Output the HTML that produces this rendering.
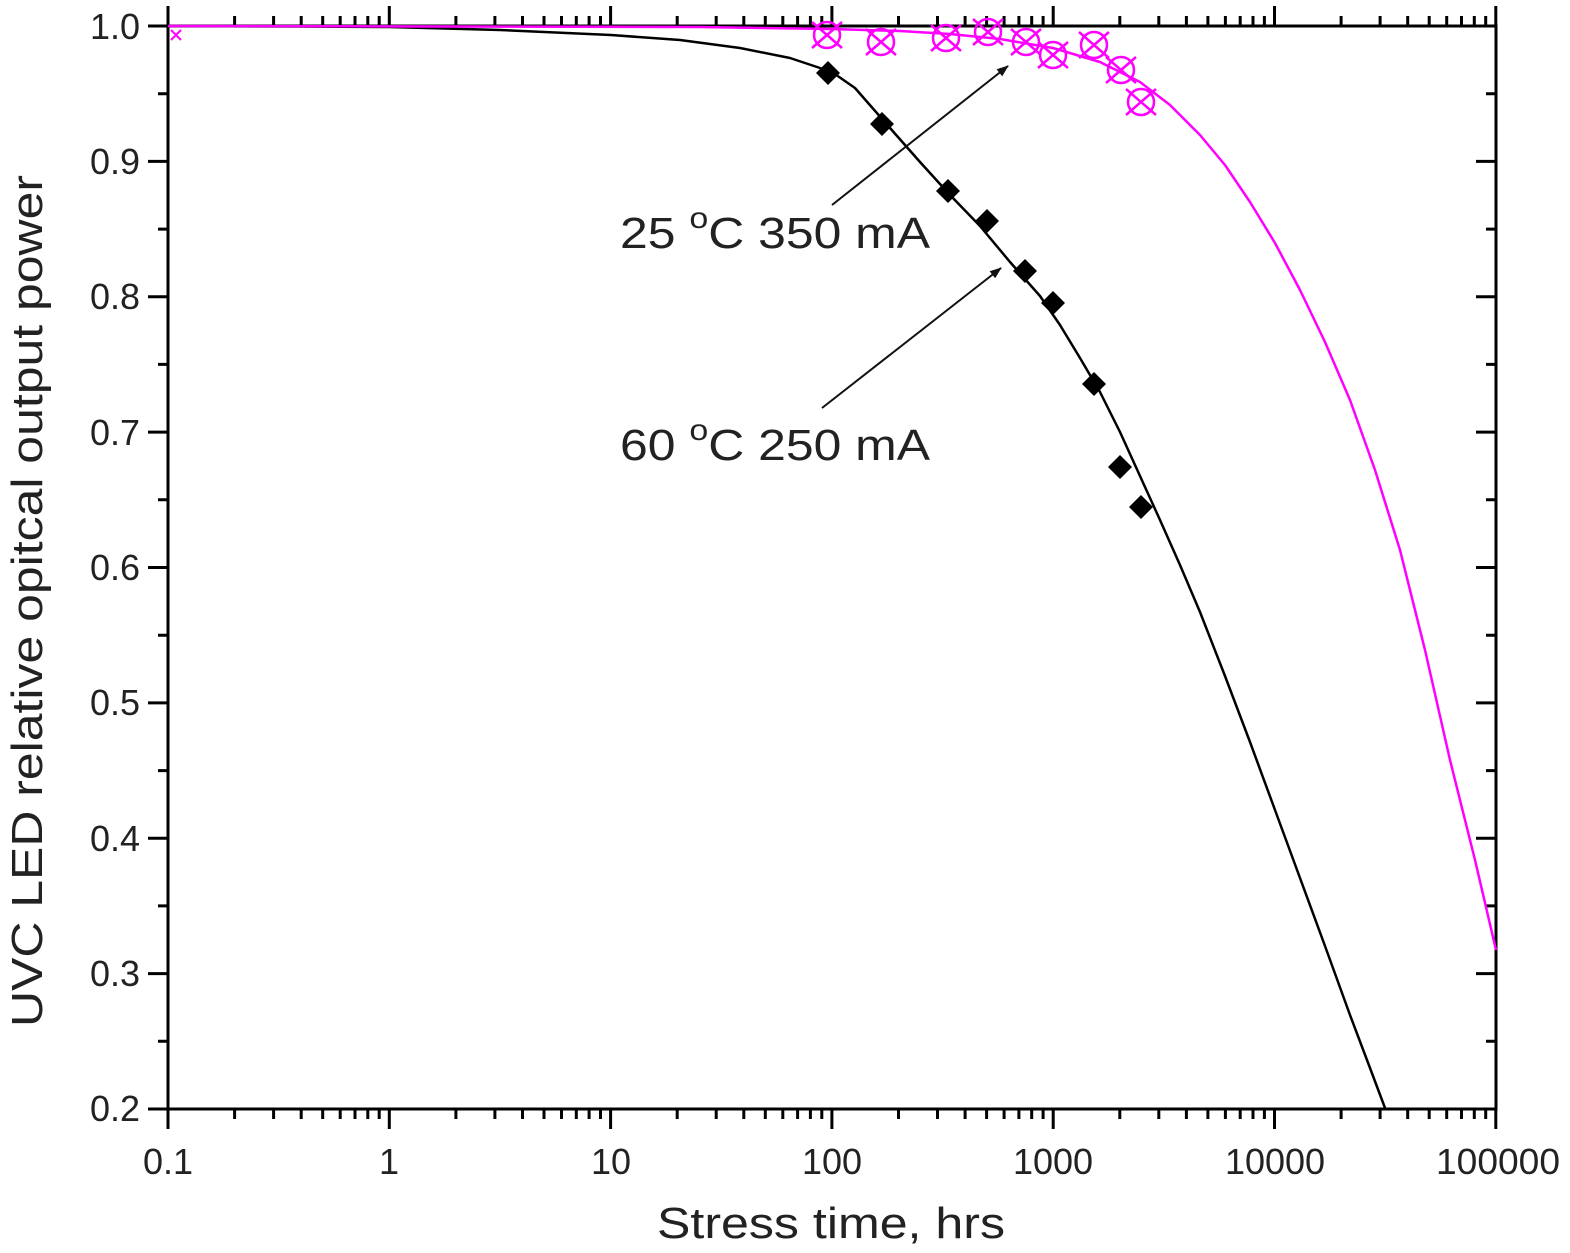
<!DOCTYPE html>
<html><head><style>body{margin:0;background:#fff}svg{display:block}text{font-family:"Liberation Sans",Arial,sans-serif;fill:#222}</style></head>
<body>
<svg width="1570" height="1253" viewBox="0 0 1570 1253">
<defs><marker id="ah" markerWidth="12" markerHeight="9" refX="11" refY="4.5" orient="auto" markerUnits="userSpaceOnUse" viewBox="0 0 12 9"><path d="M0,0 L12,4.5 L0,9 z" fill="#111"/></marker>
<g id="cx"><circle r="13" fill="none" stroke="#f0f" stroke-width="2.5"/><path d="M-15,-13 L15,13 M-15,13 L15,-13" stroke="#f0f" stroke-width="2.5"/></g>
<path id="dm" d="M0,-12 L12,0 L0,12 L-12,0 z" fill="#000"/>
<path id="xmaj" d="M168 1109v20M389.3 1109v20M610.6 1109v20M831.9 1109v20M1053.2 1109v20M1274.5 1109v20M1495.8 1109v20"/>
<path id="xmin" d="M234.6 1109v10M273.6 1109v10M301.2 1109v10M322.7 1109v10M340.2 1109v10M355 1109v10M367.8 1109v10M379.2 1109v10M455.9 1109v10M494.9 1109v10M522.5 1109v10M544 1109v10M561.5 1109v10M576.3 1109v10M589.1 1109v10M600.5 1109v10M677.2 1109v10M716.2 1109v10M743.8 1109v10M765.3 1109v10M782.8 1109v10M797.6 1109v10M810.4 1109v10M821.8 1109v10M898.5 1109v10M937.5 1109v10M965.1 1109v10M986.6 1109v10M1004.1 1109v10M1018.9 1109v10M1031.7 1109v10M1043.1 1109v10M1119.8 1109v10M1158.8 1109v10M1186.4 1109v10M1207.9 1109v10M1225.4 1109v10M1240.2 1109v10M1253 1109v10M1264.4 1109v10M1341.1 1109v10M1380.1 1109v10M1407.7 1109v10M1429.2 1109v10M1446.7 1109v10M1461.5 1109v10M1474.3 1109v10M1485.7 1109v10"/>
<path id="ytk" d="M168 26h-20M168 93.7h-10M168 161.4h-20M168 229.1h-10M168 296.8h-20M168 364.4h-10M168 432.1h-20M168 499.8h-10M168 567.5h-20M168 635.2h-10M168 702.9h-20M168 770.6h-10M168 838.3h-20M168 905.9h-10M168 973.6h-20M168 1041.3h-10M168 1109h-20"/>
</defs>
<rect x="168" y="26" width="1328" height="1083" fill="none" stroke="#000" stroke-width="3"/>
<g stroke="#000" stroke-width="3" fill="none">
<use href="#xmaj"/><use href="#xmin"/>
<use href="#xmaj" transform="matrix(1,0,0,-1,0,1135)"/><use href="#xmin" transform="matrix(1,0,0,-1,0,1135)"/>
<use href="#ytk"/><use href="#ytk" transform="translate(1328,0)"/>
</g>
<g font-size="36" text-anchor="end">
<text x="140" y="39">1.0</text><text x="140" y="174">0.9</text><text x="140" y="309">0.8</text><text x="140" y="445">0.7</text><text x="140" y="580">0.6</text><text x="140" y="715">0.5</text><text x="140" y="851">0.4</text><text x="140" y="986">0.3</text><text x="140" y="1121">0.2</text>
</g>
<g font-size="36" text-anchor="middle">
<text x="168" y="1174">0.1</text><text x="389" y="1174">1</text><text x="611" y="1174">10</text><text x="832" y="1174">100</text><text x="1053" y="1174">1000</text><text x="1275" y="1174">10000</text><text x="1498" y="1174" textLength="124" lengthAdjust="spacingAndGlyphs">100000</text>
</g>
<text x="657" y="1238" font-size="44" textLength="348" lengthAdjust="spacingAndGlyphs">Stress time, hrs</text>
<text transform="translate(42,1027) rotate(-90)" font-size="44" textLength="852" lengthAdjust="spacingAndGlyphs">UVC LED relative opitcal output power</text>
<polyline fill="none" stroke="#000" stroke-width="2.5" stroke-linejoin="round" points="168,26 300,26.5 389,27 500,30 611,35 680,40 740,48 790,58 832,72 855,88 890,128 920,162 950,195 980,226 1010,262 1040,296 1060,325 1080,358 1100,392 1120,432 1140,476 1160,520 1180,565 1200,612 1225,676 1250,742 1275,810 1300,878 1325,946 1350,1015 1370,1068 1385,1108"/>
<polyline fill="none" stroke="#f0f" stroke-width="2.5" stroke-linejoin="round" points="168,26 700,27 832,29 900,31 950,34 1000,39 1053,48 1100,62 1140,82 1170,105 1200,135 1225,165 1250,202 1275,243 1300,290 1325,342 1350,400 1375,470 1400,550 1425,650 1450,760 1475,860 1496,950"/>
<g><use href="#dm" x="828" y="73"/><use href="#dm" x="882" y="124"/><use href="#dm" x="948" y="191"/><use href="#dm" x="987" y="221"/><use href="#dm" x="1025" y="271"/><use href="#dm" x="1053" y="303"/><use href="#dm" x="1094" y="384"/><use href="#dm" x="1120" y="467"/><use href="#dm" x="1141" y="507"/></g>
<g><use href="#cx" x="827" y="35"/><use href="#cx" x="881" y="42"/><use href="#cx" x="946" y="38"/><use href="#cx" x="988" y="32"/><use href="#cx" x="1026" y="42"/><use href="#cx" x="1053" y="55"/><use href="#cx" x="1094" y="45"/><use href="#cx" x="1121" y="70"/><use href="#cx" x="1141" y="102"/></g>
<path d="M171,30 L181,40 M171,40 L181,30" stroke="#f0f" stroke-width="2"/>
<line x1="832" y1="205" x2="1008" y2="66" stroke="#111" stroke-width="2" marker-end="url(#ah)"/>
<line x1="822" y1="408" x2="1001" y2="268" stroke="#111" stroke-width="2" marker-end="url(#ah)"/>
<text x="620" y="248" font-size="44" textLength="310" lengthAdjust="spacingAndGlyphs">25 <tspan font-size="30" dy="-20">o</tspan><tspan dy="20">C 350 mA</tspan></text>
<text x="620" y="460" font-size="44" textLength="310" lengthAdjust="spacingAndGlyphs">60 <tspan font-size="30" dy="-20">o</tspan><tspan dy="20">C 250 mA</tspan></text>
</svg>
</body></html>
